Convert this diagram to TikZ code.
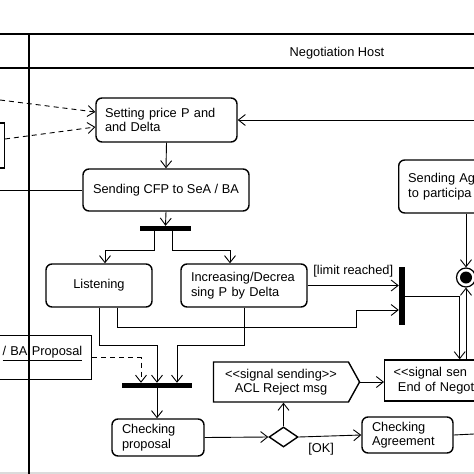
\documentclass[tikz,border=0pt]{standalone}
\usepackage{fontspec}
\setmainfont{Liberation Sans}
\usetikzlibrary{arrows.meta,positioning,shapes.geometric,shapes.symbols}

\begin{document}
\begin{tikzpicture}[
        x=1pt,y=-1pt,
        font=\fontsize{12.8pt}{14.5pt}\selectfont,
        >={Straight Barb[length=7pt,width=11pt]},
        act/.style={draw,rounded corners=6pt,line width=1.4pt,inner ysep=2pt},
        obj/.style={draw,line width=1.4pt,inner ysep=2pt},
        flow/.style={->,line width=0.9pt},
        objflow/.style={->,line width=0.9pt,dash pattern=on 5pt off 4pt},
        bar/.style={fill=black,inner sep=0pt},
        lane/.style={line width=1.6pt}
    ]
    \useasboundingbox (0,0) rectangle (474,474);
    \clip (0,0) rectangle (474,474);
    \fill[black!14] (0,472) rectangle (474,474);

    \draw[lane] (0,34) -- (474,34);
    \draw[lane] (0,68) -- (474,68);
    \draw[lane] (29,34) -- (29,474);
    \node (host) at (337,53) {Negotiation Host};

    \coordinate (inA) at (0,100);
    \coordinate (inL) at (0,190);
    \coordinate (inR) at (474,120);
    \coordinate (outR) at (474,434);

    \node (leftobj) at (5,145.5) [obj,anchor=east,minimum width=40pt,minimum height=45pt] {};
    \node (baprop) at (92,335) [obj,anchor=north east,minimum width=120pt,minimum height=44pt,
        inner xsep=9pt,text width=102pt,text depth=13pt,align=right] {\underline{/ BA Proposal}};

    \node (setp) at (166.5,120) [act,minimum height=44pt,inner xsep=9pt,text width=123pt,align=left]
        {Setting price P and\\and Delta};
    \node (cfp) at (166,190) [act,minimum width=166pt,minimum height=42pt] {Sending CFP to SeA / BA};
    \node (fork1) at (165.5,228.5) [bar,minimum width=51pt,minimum height=5pt] {};
    \node (listen) at (99,285.5) [act,minimum width=106pt,minimum height=43pt] {Listening};
    \node (incr) at (244,285.5) [act,minimum height=43pt,inner xsep=10pt,text width=106pt,align=left]
        {Increasing/Decrea\\sing P by Delta};
    \node (join1) at (402,296) [bar,minimum width=6pt,minimum height=58pt] {};
    \node (jn3) at (157,385.5) [bar,minimum width=70pt,minimum height=5pt] {};
    \node (chkprop) at (158,437.5) [act,minimum height=37pt,inner xsep=10pt,text width=72pt,align=left]
        {Checking\\proposal};
    \node (dia) at (283.5,437) [draw,diamond,line width=1.4pt,inner sep=0pt,minimum width=29pt,minimum height=20pt] {};
    \node (acl) at (281,382) [draw,signal,signal to=east,signal pointer angle=122,line width=1.4pt,
        minimum width=146pt,minimum height=40pt,inner sep=1pt,align=center]
        {<\kern0pt<signal sending>\kern0pt>\\ACL Reject msg};
    \node (chkagr) at (407.5,435) [act,minimum height=36pt,inner xsep=10pt,text width=71pt,align=left]
        {Checking\\Agreement};
    \node (endneg) at (384,380.5) [obj,anchor=west,minimum height=41pt,inner xsep=9pt,text width=100pt,align=left]
        {<\kern0pt<signal sen\\\ End of Negot};
    \node (agsend) at (398,186.5) [act,anchor=west,minimum height=53pt,inner xsep=9.5pt,text width=100pt,align=left]
        {Sending Ag\\to participa};
    \node (fin) at (466,277.5) [draw,circle,line width=1.2pt,inner sep=0pt,minimum size=19pt] {};
    \node (finin) at (fin.center) [fill=black,circle,inner sep=0pt,minimum size=12pt] {};

    \draw[objflow] (inA) -- ([yshift=8pt]setp.west);
    \draw[objflow] ([yshift=6.5pt]leftobj.east) -- ([yshift=-7pt]setp.west);
    \draw[flow] (inR) -- (setp.east);
    \draw[line width=0.9pt] (inL) -- (cfp.west);
    \draw[flow] (setp.south) -- (cfp.north);
    \draw[flow] (cfp.south) -- (fork1.north);
    \draw[flow] ([xshift=-11pt]fork1.south) -- ++(0,19) -| ([xshift=6pt]listen.north);
    \draw[flow] ([xshift=7pt]fork1.south) -- ++(0,19) -| ([xshift=-14pt]incr.north);
    \draw[flow] (incr.east) -- node[above=5pt,pos=0.5]{[limit reached]} (incr.east -| join1.west);
    \draw[flow] ([xshift=18pt]listen.south) |- ([xshift=-42pt,yshift=-31pt]join1.west) |- ([yshift=-14pt]join1.west);
    \draw[flow] (join1.east) -| ([xshift=16pt]endneg.north);
    \draw[flow] (agsend.south -| fin.north) -- (fin.north);
    \draw[flow] (endneg.north -| fin.south) -- (fin.south);
    \draw[flow] (listen.south) -- ++(0,38) -| (jn3.north);
    \draw[flow] (incr.south) -- ++(0,38) -| ([xshift=20pt]jn3.north);
    \draw[objflow] (baprop.east) -| ([xshift=-16pt]jn3.north);
    \draw[flow] (jn3.south) -- (jn3.south |- chkprop.north);
    \draw[flow] (chkprop.east) -- (dia.west);
    \draw[flow] (dia.north) -- (dia.north |- acl.south);
    \draw[flow] (acl.east) -- (acl.east -| endneg.west);
    \draw[flow] (dia.east) -- node[below=3pt,pos=0.36]{[OK]} (chkagr.west);
    \draw[line width=0.9pt] (chkagr.east) -- (outR);
\end{tikzpicture}
\end{document}
